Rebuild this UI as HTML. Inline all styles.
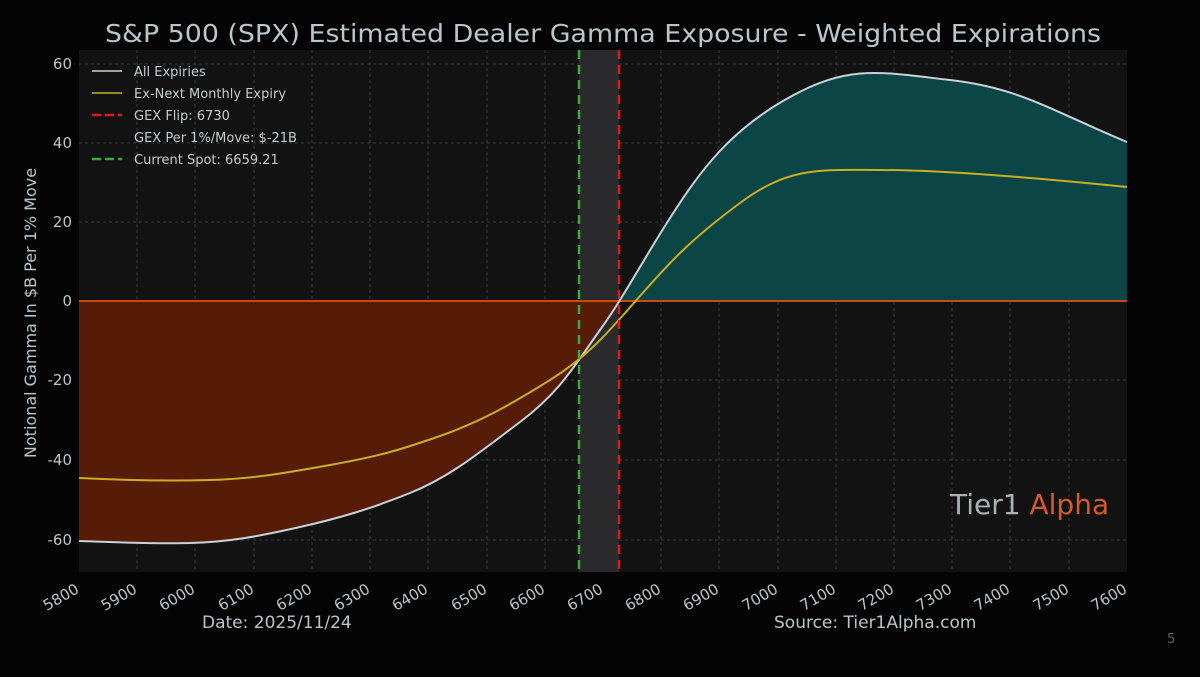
<!DOCTYPE html>
<html><head><meta charset="utf-8"><style>
html,body{margin:0;padding:0;background:#040404;}
svg{display:block;}
text{font-family:"DejaVu Sans","Liberation Sans",sans-serif;}
</style></head><body>
<svg width="1200" height="677" viewBox="0 0 1200 677">
<rect width="1200" height="677" fill="#040404"/>
<rect x="79" y="50" width="1048" height="522" fill="#121212"/>
<text x="603" y="42" text-anchor="middle" font-size="25" fill="#b9c6cc" textLength="996" lengthAdjust="spacingAndGlyphs">S&amp;P 500 (SPX) Estimated Dealer Gamma Exposure - Weighted Expirations</text>
<g stroke="#3a3a3a" stroke-width="1" stroke-dasharray="3,3">
<line x1="79" x2="1127" y1="64" y2="64"/><line x1="79" x2="1127" y1="143" y2="143"/><line x1="79" x2="1127" y1="222" y2="222"/><line x1="79" x2="1127" y1="380" y2="380"/><line x1="79" x2="1127" y1="460" y2="460"/><line x1="79" x2="1127" y1="540" y2="540"/>
<line x1="137" x2="137" y1="50" y2="572"/><line x1="195" x2="195" y1="50" y2="572"/><line x1="254" x2="254" y1="50" y2="572"/><line x1="312" x2="312" y1="50" y2="572"/><line x1="370" x2="370" y1="50" y2="572"/><line x1="428" x2="428" y1="50" y2="572"/><line x1="487" x2="487" y1="50" y2="572"/><line x1="545" x2="545" y1="50" y2="572"/><line x1="603" x2="603" y1="50" y2="572"/><line x1="661" x2="661" y1="50" y2="572"/><line x1="719" x2="719" y1="50" y2="572"/><line x1="778" x2="778" y1="50" y2="572"/><line x1="836" x2="836" y1="50" y2="572"/><line x1="894" x2="894" y1="50" y2="572"/><line x1="952" x2="952" y1="50" y2="572"/><line x1="1010" x2="1010" y1="50" y2="572"/><line x1="1069" x2="1069" y1="50" y2="572"/>
</g>
<rect x="579" y="50" width="40" height="522" fill="#2a2a2c"/>
<clipPath id="neg"><rect x="79" y="301" width="1048" height="280"/></clipPath>
<clipPath id="pos"><rect x="79" y="40" width="1048" height="261"/></clipPath>
<path clip-path="url(#neg)" d="M79,541 C110,542 150,544 190,543 S260,536 300,527 S370,509 410,493 S480,452 520,422 S575,365 600,330 S640,265 670,218 S730,130 790,97 S880,72 950,80 S1050,110 1127,142 L1127,301 L79,301 Z" fill="#561c08"/>
<path clip-path="url(#pos)" d="M79,541 C110,542 150,544 190,543 S260,536 300,527 S370,509 410,493 S480,452 520,422 S575,365 600,330 S640,265 670,218 S730,130 790,97 S880,72 950,80 S1050,110 1127,142 L1127,301 L79,301 Z" fill="#0b4545"/>
<line x1="79" x2="1127" y1="301" y2="301" stroke="#c84a14" stroke-width="2"/>
<path d="M79,541 C110,542 150,544 190,543 S260,536 300,527 S370,509 410,493 S480,452 520,422 S575,365 600,330 S640,265 670,218 S730,130 790,97 S880,72 950,80 S1050,110 1127,142" fill="none" stroke="#c8d2d8" stroke-width="2"/>
<path d="M79,478 C120,480 170,481 210,480 S280,474 330,465 S400,450 440,436 S510,405 550,380 S610,330 640,296 S690,240 740,203 S820,170 880,170 S1040,178 1127,187" fill="none" stroke="#c9b020" stroke-width="2"/>
<line x1="579" x2="579" y1="50" y2="572" stroke="#3aa83a" stroke-width="2.5" stroke-dasharray="9,6"/>
<line x1="619" x2="619" y1="50" y2="572" stroke="#e01818" stroke-width="2.5" stroke-dasharray="9,6"/>
<g font-size="15" fill="#b9c6cc" text-anchor="end">
<text x="72" y="69">60</text><text x="72" y="148">40</text><text x="72" y="227">20</text><text x="72" y="306">0</text><text x="72" y="385">-20</text><text x="72" y="465">-40</text><text x="72" y="545">-60</text>
</g>
<g font-size="15" fill="#b9c6cc" text-anchor="end">
<text transform="translate(80,592) rotate(-30)">5800</text><text transform="translate(138,592) rotate(-30)">5900</text><text transform="translate(196,592) rotate(-30)">6000</text><text transform="translate(255,592) rotate(-30)">6100</text><text transform="translate(313,592) rotate(-30)">6200</text><text transform="translate(371,592) rotate(-30)">6300</text><text transform="translate(429,592) rotate(-30)">6400</text><text transform="translate(488,592) rotate(-30)">6500</text><text transform="translate(546,592) rotate(-30)">6600</text><text transform="translate(604,592) rotate(-30)">6700</text><text transform="translate(662,592) rotate(-30)">6800</text><text transform="translate(720,592) rotate(-30)">6900</text><text transform="translate(779,592) rotate(-30)">7000</text><text transform="translate(837,592) rotate(-30)">7100</text><text transform="translate(895,592) rotate(-30)">7200</text><text transform="translate(953,592) rotate(-30)">7300</text><text transform="translate(1011,592) rotate(-30)">7400</text><text transform="translate(1070,592) rotate(-30)">7500</text><text transform="translate(1128,592) rotate(-30)">7600</text>
</g>
<text transform="translate(36,313) rotate(-90)" text-anchor="middle" font-size="16" fill="#b9c6cc">Notional Gamma In $B Per 1% Move</text>
<text x="202" y="628" font-size="17" fill="#b9c6cc">Date: 2025/11/24</text>
<text x="774" y="628" font-size="17" fill="#b9c6cc">Source: Tier1Alpha.com</text>
<text x="1167" y="643" font-size="13" fill="#4a6a6a">5</text>
<text x="950" y="514" font-size="28" fill="#a7b1b5">Tier1 <tspan fill="#d9582a">Alpha</tspan></text>
<g font-size="13" fill="#c3ccd0">
<line x1="92" x2="122" y1="71" y2="71" stroke="#c8d2d8" stroke-width="1.5"/><text x="134" y="76">All Expiries</text>
<line x1="92" x2="122" y1="93" y2="93" stroke="#c9b020" stroke-width="1.5"/><text x="134" y="98">Ex-Next Monthly Expiry</text>
<line x1="92" x2="122" y1="115" y2="115" stroke="#e01818" stroke-width="2.5" stroke-dasharray="9,4"/><text x="134" y="120">GEX Flip: 6730</text>
<text x="134" y="142">GEX Per 1%/Move: $-21B</text>
<line x1="92" x2="122" y1="159" y2="159" stroke="#3aa83a" stroke-width="2.5" stroke-dasharray="9,4"/><text x="134" y="164">Current Spot: 6659.21</text>
</g>
</svg>
</body></html>
